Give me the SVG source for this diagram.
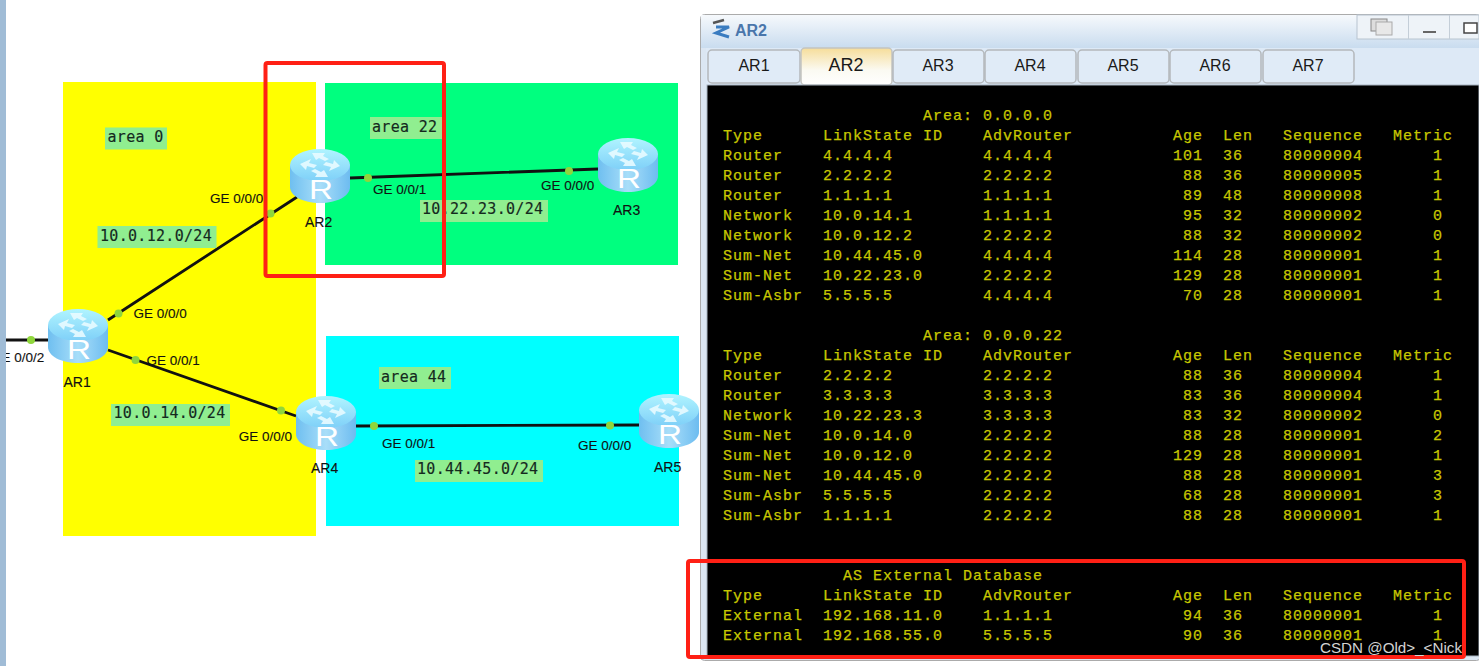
<svg xmlns="http://www.w3.org/2000/svg" width="1479" height="666" viewBox="0 0 1479 666">
<style>
.lab{font:15px "DejaVu Sans Mono",monospace;letter-spacing:.3px;fill:#14291e;stroke:#14291e;stroke-width:.15}
.if{font:13.5px "Liberation Sans",Arial,sans-serif;fill:#111;stroke:#111;stroke-width:.12}
.nm{font:14px "Liberation Sans",Arial,sans-serif;fill:#111;stroke:#111;stroke-width:.12}
.r{font:28px "Liberation Sans",Arial,sans-serif;fill:#fff}
.tab{font:16px "Liberation Sans",Arial,sans-serif;fill:#1a1a1a;text-anchor:middle}
.tb{fill:#e0ebf7;stroke:#b4b8bc;stroke-width:1.5}
.t{font:15px "Liberation Mono",monospace;letter-spacing:1px;fill:#c8c800;stroke:#c8c800;stroke-width:.25;white-space:pre}
.lb{fill:#90ee90}
.link{stroke:#111;stroke-width:2.8;fill:none}
.dot{fill:#8fd63c}
.red{fill:none;stroke:#ff2015;stroke-width:4}
</style>
<defs>
<linearGradient id="body" x1="0" x2="1" y1="0" y2="0"><stop offset="0" stop-color="#6fbff0"/><stop offset=".5" stop-color="#a8def9"/><stop offset="1" stop-color="#6dbcf0"/></linearGradient>
<linearGradient id="top" x1="0" x2="0" y1="0" y2="1"><stop offset="0" stop-color="#b0f4ff"/><stop offset="1" stop-color="#7fd0f8"/></linearGradient>
<linearGradient id="chrome" x1="0" x2="0" y1="0" y2="1"><stop offset="0" stop-color="#f6f9fc"/><stop offset="1" stop-color="#c9dcef"/></linearGradient>
<linearGradient id="act" x1="0" x2="0" y1="0" y2="1"><stop offset="0" stop-color="#f6dd9a"/><stop offset=".6" stop-color="#fbfaf2"/><stop offset="1" stop-color="#fff"/></linearGradient>
<symbol id="router" width="60" height="54" viewBox="0 0 60 54" overflow="visible">
<path d="M0 16V38C0 47 13 54 30 54S60 47 60 38V16Z" fill="url(#body)"/>
<ellipse cx="30" cy="16" rx="30" ry="16" fill="url(#top)"/>
<path d="M10 15l11-5-2 4 8 2-3 3-7-2-1 4zM50 17l-11 5 2-4-8-2 3-3 7 2 1-4zM22 4l13 0-2 3 6 3-4 2-6-3-3 2zM38 28l-13 0 2-3-6-3 4-2 6 3 3-2z" fill="#e8fbff" opacity=".9"/>
</symbol>
</defs>

<rect width="1479" height="666" fill="#fff"/>
<rect x="63" y="82" width="253" height="454" fill="#ff0"/>
<rect x="325" y="83" width="353" height="182" fill="#00ff7f"/>
<rect x="326" y="336" width="353" height="190" fill="#0ff"/>

<g id="connectors">
<path class="link" d="M6 340H48M108 320L297 197M108 350L296 416M350 178L598 169M356 426L639 425"/>
<circle class="dot" cx="31" cy="340" r="4"/>
<circle class="dot" cx="118.500" cy="313.500" r="4"/>
<circle class="dot" cx="270.500" cy="213.500" r="4"/>
<circle class="dot" cx="135.500" cy="360" r="4"/>
<circle class="dot" cx="281" cy="410.500" r="4"/>
<circle class="dot" cx="368" cy="178" r="4"/>
<circle class="dot" cx="569" cy="171" r="4"/>
<circle class="dot" cx="374" cy="426" r="4"/>
<circle class="dot" cx="610" cy="425.500" r="4"/>
</g>

<g id="AR1"><use href="#router" x="48" y="309" width="60" height="54"/><text class="r" x="67" y="359" textLength="24" lengthAdjust="spacingAndGlyphs">R</text><text class="nm" x="63.500" y="387">AR1</text></g>
<g id="AR2"><use href="#router" x="290" y="149" width="60" height="54"/><text class="r" x="309" y="199" textLength="24" lengthAdjust="spacingAndGlyphs">R</text><text class="nm" x="305" y="227">AR2</text></g>
<g id="AR3"><use href="#router" x="598" y="138" width="60" height="54"/><text class="r" x="617" y="188" textLength="24" lengthAdjust="spacingAndGlyphs">R</text><text class="nm" x="613" y="215">AR3</text></g>
<g id="AR4"><use href="#router" x="296" y="396" width="60" height="54"/><text class="r" x="315" y="446" textLength="24" lengthAdjust="spacingAndGlyphs">R</text><text class="nm" x="311" y="473">AR4</text></g>
<g id="AR5"><use href="#router" x="639" y="394" width="60" height="54"/><text class="r" x="658" y="444" textLength="24" lengthAdjust="spacingAndGlyphs">R</text><text class="nm" x="654" y="472">AR5</text></g>

<g id="interface-labels">
<text class="if" x="210" y="203">GE 0/0/0</text>
<text class="if" x="133.500" y="318">GE 0/0/0</text>
<text class="if" x="146.500" y="365">GE 0/0/1</text>
<text class="if" x="1.500" y="362">E 0/0/2</text>
<text class="if" x="238.700" y="441">GE 0/0/0</text>
<text class="if" x="373" y="194">GE 0/0/1</text>
<text class="if" x="541" y="190">GE 0/0/0</text>
<text class="if" x="382" y="448">GE 0/0/1</text>
<text class="if" x="578" y="450">GE 0/0/0</text>
</g>

<g id="area-labels">
<rect class="lb" x="105" y="127.500" width="62" height="22"/><text class="lab" x="107.500" y="142">area 0</text>
<rect class="lb" x="97.500" y="226" width="119" height="22"/><text class="lab" x="100" y="241">10.0.12.0/24</text>
<rect class="lb" x="111" y="404" width="119" height="22"/><text class="lab" x="113.500" y="418">10.0.14.0/24</text>
<rect class="lb" x="370" y="117" width="72" height="22"/><text class="lab" x="372" y="132">area 22</text>
<rect class="lb" x="420" y="200" width="128" height="22"/><text class="lab" x="422" y="214">10.22.23.0/24</text>
<rect class="lb" x="379" y="367" width="72" height="22"/><text class="lab" x="381" y="382">area 44</text>
<rect class="lb" x="415" y="460" width="128" height="22"/><text class="lab" x="417" y="474">10.44.45.0/24</text>
</g>

<rect x="0" y="0" width="6" height="666" fill="#a0bcd6"/>

<g id="window">
<rect x="700.500" y="14.500" width="780" height="646" rx="4" fill="#dbe6f2" stroke="#ababab"/>
<rect x="701" y="15" width="778" height="33" fill="url(#chrome)"/>
<rect x="1357" y="15" width="122" height="24" fill="#eef3f8" stroke="#b8c4d0"/>
<path d="M1408.500 15V39M1449.500 15V39" stroke="#c4ced8"/>
<rect x="1371" y="19" width="16" height="12" fill="#ddd" stroke="#888"/><rect x="1376" y="22" width="16" height="13" fill="#e8e8e8" stroke="#aaa"/>
<path d="M1423 32H1436" stroke="#666" stroke-width="2"/>
<rect x="1464" y="23" width="13" height="10" fill="#fff" stroke="#444" stroke-width="1.500"/>
<path d="M716 27L729 27L716 33L729 37" fill="none" stroke="#3a7cc0" stroke-width="3"/>
<path d="M713 23L724 20" stroke="#555" stroke-width="2.500"/>
<text x="735" y="36" font-family="Liberation Sans, Arial, sans-serif" font-size="16" font-weight="bold" fill="#4a76ab">AR2</text>
<rect x="706" y="48" width="773" height="38" fill="#dde9f6"/>
<rect class="tb" x="708" y="50" width="92" height="33" rx="4"/>
<rect x="801" y="48" width="91" height="37" rx="4" fill="url(#act)" stroke="#c4c4c0" stroke-width="1.500"/>
<rect class="tb" x="893" y="50" width="91" height="33" rx="4"/>
<rect class="tb" x="985" y="50" width="91" height="33" rx="4"/>
<rect class="tb" x="1078" y="50" width="91" height="33" rx="4"/>
<rect class="tb" x="1170" y="50" width="91" height="33" rx="4"/>
<rect class="tb" x="1263" y="50" width="91" height="33" rx="4"/>
<text class="tab" x="754" y="71">AR1</text>
<text class="tab" x="846" y="71" style="font-size:18px">AR2</text>
<text class="tab" x="938" y="71">AR3</text>
<text class="tab" x="1030" y="71">AR4</text>
<text class="tab" x="1123" y="71">AR5</text>
<text class="tab" x="1215" y="71">AR6</text>
<text class="tab" x="1308" y="71">AR7</text>
<rect x="707" y="85" width="772" height="571" fill="#000" stroke="#a8b4c0" stroke-width="1"/>
</g>

<g id="terminal">
<text class="t" x="923" y="120">Area: 0.0.0.0</text>
<text class="t" x="723" y="140">Type      LinkState ID    AdvRouter          Age  Len   Sequence   Metric</text>
<text class="t" x="723" y="160">Router    4.4.4.4         4.4.4.4            101  36    80000004       1</text>
<text class="t" x="723" y="180">Router    2.2.2.2         2.2.2.2             88  36    80000005       1</text>
<text class="t" x="723" y="200">Router    1.1.1.1         1.1.1.1             89  48    80000008       1</text>
<text class="t" x="723" y="220">Network   10.0.14.1       1.1.1.1             95  32    80000002       0</text>
<text class="t" x="723" y="240">Network   10.0.12.2       2.2.2.2             88  32    80000002       0</text>
<text class="t" x="723" y="260">Sum-Net   10.44.45.0      4.4.4.4            114  28    80000001       1</text>
<text class="t" x="723" y="280">Sum-Net   10.22.23.0      2.2.2.2            129  28    80000001       1</text>
<text class="t" x="723" y="300">Sum-Asbr  5.5.5.5         4.4.4.4             70  28    80000001       1</text>
<text class="t" x="923" y="340">Area: 0.0.0.22</text>
<text class="t" x="723" y="360">Type      LinkState ID    AdvRouter          Age  Len   Sequence   Metric</text>
<text class="t" x="723" y="380">Router    2.2.2.2         2.2.2.2             88  36    80000004       1</text>
<text class="t" x="723" y="400">Router    3.3.3.3         3.3.3.3             83  36    80000004       1</text>
<text class="t" x="723" y="420">Network   10.22.23.3      3.3.3.3             83  32    80000002       0</text>
<text class="t" x="723" y="440">Sum-Net   10.0.14.0       2.2.2.2             88  28    80000001       2</text>
<text class="t" x="723" y="460">Sum-Net   10.0.12.0       2.2.2.2            129  28    80000001       1</text>
<text class="t" x="723" y="480">Sum-Net   10.44.45.0      2.2.2.2             88  28    80000001       3</text>
<text class="t" x="723" y="500">Sum-Asbr  5.5.5.5         2.2.2.2             68  28    80000001       3</text>
<text class="t" x="723" y="520">Sum-Asbr  1.1.1.1         2.2.2.2             88  28    80000001       1</text>
<text class="t" x="843" y="580">AS External Database</text>
<text class="t" x="723" y="600">Type      LinkState ID    AdvRouter          Age  Len   Sequence   Metric</text>
<text class="t" x="723" y="620">External  192.168.11.0    1.1.1.1             94  36    80000001       1</text>
<text class="t" x="723" y="640">External  192.168.55.0    5.5.5.5             90  36    80000001       1</text>
</g>

<rect class="red" x="265.500" y="63" width="178.500" height="213" rx="2"/>
<rect class="red" x="688" y="561" width="776" height="96" rx="2"/>
<text x="1320" y="653" font-family="Liberation Sans, Arial, sans-serif" font-size="15.200" fill="#d4d4d4">CSDN @Old&gt;_&lt;Nick</text>
</svg>
